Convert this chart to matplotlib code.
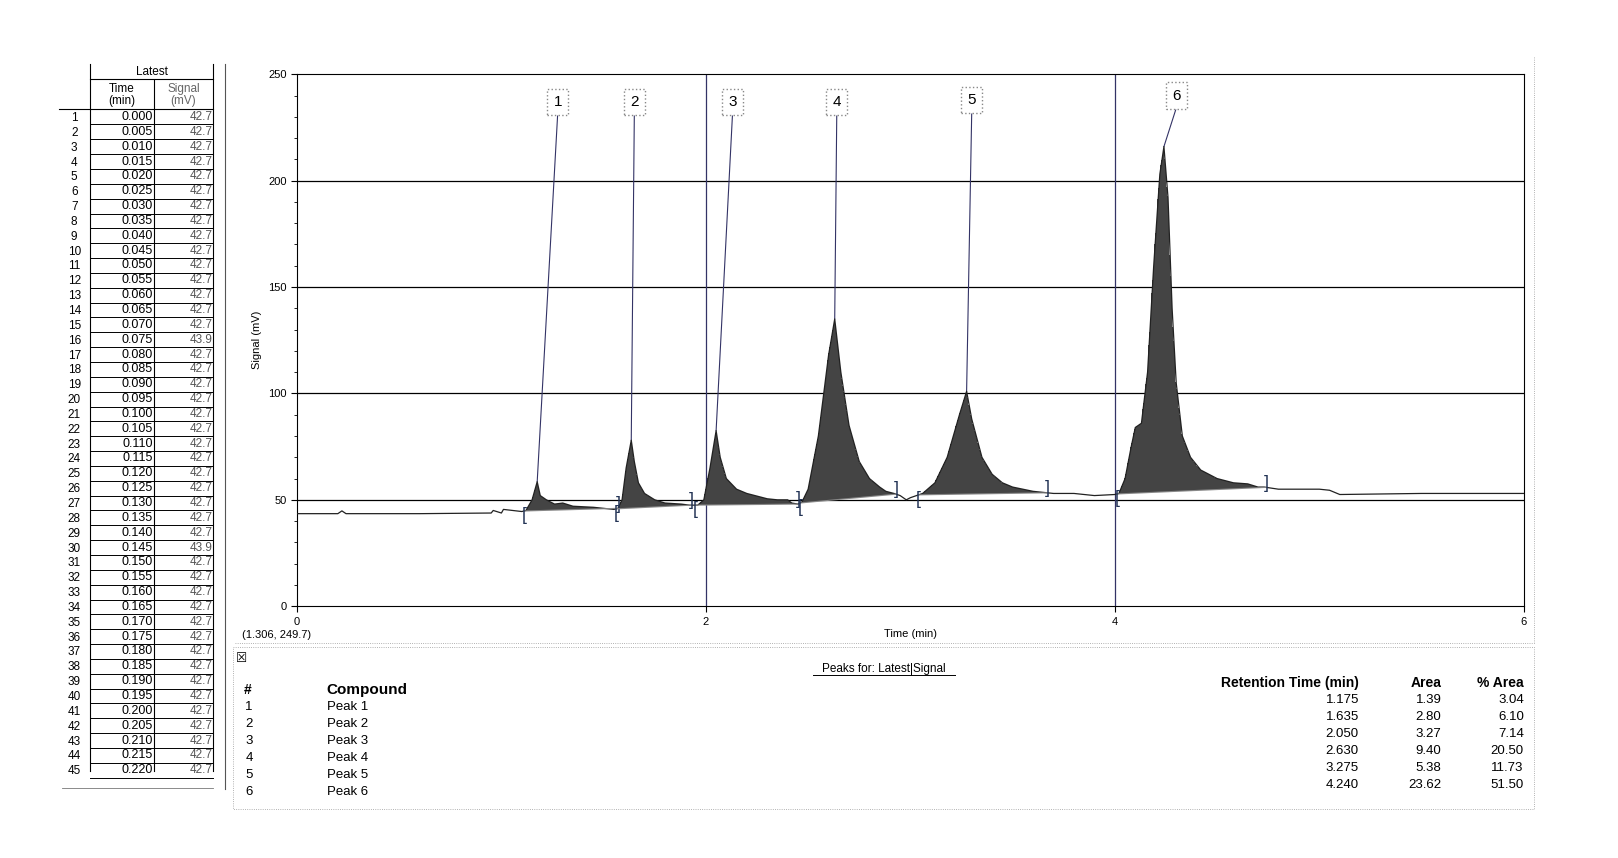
import numpy as np
import matplotlib.pyplot as plt

# chromatogram trace
trace_time = [0.0, 0.2, 0.22, 0.24, 0.6, 0.95, 0.96, 1.0, 1.01, 1.1,
              1.12, 1.15, 1.175, 1.19, 1.22, 1.26, 1.3, 1.35, 1.45, 1.5, 1.55,
              1.57, 1.59, 1.61, 1.635, 1.65, 1.67, 1.7, 1.75, 1.8, 1.88, 1.92,
              1.96, 1.99, 2.02, 2.05, 2.07, 2.1, 2.15, 2.2, 2.3, 2.35, 2.4, 2.42, 2.45,
              2.47, 2.5, 2.55, 2.6, 2.63, 2.66, 2.7, 2.75, 2.8, 2.85, 2.88, 2.92,
              2.95, 2.98, 3.0, 3.03,
              3.06, 3.12, 3.18, 3.24, 3.275, 3.3, 3.35, 3.4, 3.45, 3.5, 3.55, 3.6, 3.65,
              3.7, 3.8, 3.9, 4.0,
              4.02, 4.05, 4.08, 4.1, 4.13, 4.16, 4.19, 4.22, 4.24, 4.26, 4.28, 4.3, 4.33,
              4.37, 4.42, 4.5, 4.58, 4.65, 4.7, 4.73, 4.8, 5.0, 5.05, 5.1, 5.5, 6.0]
trace_signal = [43.5, 43.5, 44.8, 43.5, 43.5, 43.8, 45.0, 43.8, 45.5, 44.5,
                45.0, 50.0, 58.5, 52.0, 50.0, 48.0, 48.5, 47.0, 46.5, 46.0, 45.5,
                46.0, 50.0, 65.0, 78.0, 68.0, 58.0, 53.0, 50.0, 48.5, 48.0, 47.5,
                47.5, 50.0, 65.0, 82.5, 70.0, 60.0, 55.0, 53.0, 50.5, 50.0, 50.0, 48.5, 48.0,
                49.0, 55.0, 80.0, 118.0, 135.0, 110.0, 85.0, 68.0, 60.0, 56.0, 54.0, 53.0,
                52.0, 50.0, 51.0, 52.0,
                53.0, 58.0, 70.0, 90.0, 101.0, 88.0, 70.0, 62.0, 58.0, 56.0, 55.0, 54.0, 53.5,
                53.0, 53.0, 52.0, 52.5,
                53.0, 60.0, 75.0, 84.0, 86.0, 110.0, 160.0, 203.0, 216.0, 192.0, 140.0, 105.0, 80.0,
                70.0, 64.0, 60.0, 58.0, 57.5, 56.0, 56.0, 55.0, 55.0, 54.5, 52.5, 53.0, 53.0]

# integration windows (start, end) per peak
peak_start = [1.11, 1.56, 1.95, 2.46, 3.04, 4.01]
peak_end = [1.57, 1.93, 2.45, 2.93, 3.67, 4.74]
peak_labels = ['1', '2', '3', '4', '5', '6']
label_time = [1.275, 1.65, 2.13, 2.64, 3.30, 4.30]
label_height = [237, 237, 237, 237, 238, 240]

# left data table
table_time = ['%.3f' % (i * 0.005) for i in range(45)]
table_signal = ['42.7'] * 45
table_signal[15] = '43.9'
table_signal[29] = '43.9'

# peak result table
peak_names = ['Peak 1', 'Peak 2', 'Peak 3', 'Peak 4', 'Peak 5', 'Peak 6']
ret_time = ['1.175', '1.635', '2.050', '2.630', '3.275', '4.240']
area = ['1.39', '2.80', '3.27', '9.40', '5.38', '23.62']
pct_area = ['3.04', '6.10', '7.14', '20.50', '11.73', '51.50']

S = 1.031
plt.rcParams['font.family'] = ['Liberation Sans', 'DejaVu Sans']
fig = plt.figure(figsize=(16.18, 8.58), dpi=100)

# page overlay in pixel coords
pg = fig.add_axes([0, 0, 1, 1])
pg.set_xlim(0, 1618)
pg.set_ylim(858, 0)
pg.axis('off')

# main chart
ax = fig.add_axes([288 * S / 1618, 1 - 588 * S / 858, 1190 * S / 1618, 516 * S / 858])
t = np.array(trace_time)
s = np.array(trace_signal)
ax.plot(t, s, color='#222222', lw=0.9, zorder=3)
for i in range(6):
    a, b = peak_start[i], peak_end[i]
    ya, yb = np.interp(a, t, s), np.interp(b, t, s)
    tt = np.linspace(a, b, 200)
    base = ya + (yb - ya) * (tt - a) / (b - a)
    ax.fill_between(tt, base, np.interp(tt, t, s), step='pre', color='#444444', lw=0, zorder=2)
    ax.plot([a, b], [ya, yb], color='#888888', lw=0.8, zorder=3)
    ax.text(a, ya - 2, '[', fontsize=13, ha='center', va='center', color='#223355')
    ax.text(b, yb + 2, ']', fontsize=13, ha='center', va='center', color='#223355')
    apex = np.argmax(np.where((t >= a) & (t <= b), s, 0))
    ax.plot([label_time[i], t[apex]], [label_height[i] - 6, s[apex]], color='#333366', lw=0.8)
    ax.text(label_time[i], label_height[i], peak_labels[i], fontsize=11, ha='center', va='center',
            bbox=dict(boxstyle='square,pad=0.4', fc='white', ec='#888888', ls=':'))

for y in [50, 100, 150, 200]:
    ax.axhline(y, color='black', lw=0.9, zorder=1)
for x in [2, 4]:
    ax.axvline(x, color='#333366', lw=0.9, zorder=1)
ax.set_xlim(0, 6)
ax.set_ylim(0, 250)
ax.set_xticks([0, 2, 4, 6])
ax.set_yticks([0, 50, 100, 150, 200, 250])
ax.set_yticks(np.arange(0, 251, 10), minor=True)
ax.tick_params(labelsize=8, length=4, direction='out')
ax.tick_params(which='minor', length=2)
ax.set_xlabel('Time (min)', fontsize=8, labelpad=2)
ax.set_ylabel('Signal (mV)', fontsize=8)
for sp in ax.spines.values():
    sp.set_linewidth(0.8)
pg.text(235 * S, 616 * S, '(1.306, 249.7)', fontsize=8, va='center')

# left table
x0, x1, x2, x3 = 57 * S, 87 * S, 149 * S, 207 * S
pg.plot([x1, x1], [62 * S, 748 * S], color='black', lw=0.8)
pg.plot([x2, x2], [78 * S, 748 * S], color='black', lw=0.8)
pg.plot([x3, x3], [62 * S, 748 * S], color='black', lw=0.8)
pg.plot([218 * S, 218 * S], [62 * S, 765 * S], color='#555555', lw=0.8)
pg.plot([x1, x3], [77 * S, 77 * S], color='black', lw=0.8)
pg.plot([x0, x3], [106 * S, 106 * S], color='black', lw=0.8)
pg.text((x1 + x3) / 2, 70 * S, 'Latest', fontsize=8.5, ha='center', va='center')
pg.text((x1 + x2) / 2, 92 * S, 'Time\n(min)', fontsize=8.5, ha='center', va='center', linespacing=1.0)
pg.text((x2 + x3) / 2, 92 * S, 'Signal\n(mV)', fontsize=8.5, ha='center', va='center',
        color='#666666', linespacing=1.0)
row_h = 14.4 * S
for i in range(45):
    yc = 113.5 * S + i * row_h
    pg.text(72 * S, yc + 1, str(i + 1), fontsize=8.5, ha='center', va='center')
    pg.text(x2 - 1, yc, table_time[i], fontsize=9, ha='right', va='center')
    pg.text(x3 - 1, yc, table_signal[i], fontsize=8.5, ha='right', va='center', color='#555555')
    pg.plot([x1, x3], [yc + row_h / 2, yc + row_h / 2], color='black', lw=0.7)
pg.plot([60 * S, x3], [764 * S, 764 * S], color='#777777', lw=0.6)

# bottom peak table
pg.add_patch(plt.Rectangle((226 * S, 628 * S), 1262 * S, 157 * S, fill=False,
                           ec='#999999', lw=0.6, ls=':'))
pg.text(857 * S, 649 * S, 'Peaks for: Latest|Signal', fontsize=8.5, ha='center', va='center')
pg.plot([789 * S, 926 * S], [655 * S, 655 * S], color='black', lw=0.7)
pg.text(229 * S, 639 * S, '\u2612', fontsize=9, va='center')
pg.text(236 * S, 669 * S, '#', fontsize=10, fontweight='bold', va='center')
pg.text(317 * S, 669 * S, 'Compound', fontsize=11, fontweight='bold', va='center')
pg.text(1318 * S, 662 * S, 'Retention Time (min)', fontsize=10, fontweight='bold', ha='right', va='center')
pg.text(1398 * S, 662 * S, 'Area', fontsize=10, fontweight='bold', ha='right', va='center')
pg.text(1478 * S, 662 * S, '% Area', fontsize=10, fontweight='bold', ha='right', va='center')
for i in range(6):
    yc = 686 * S + i * 16.4 * S
    pg.text(238 * S, yc, str(i + 1), fontsize=9.5, va='center')
    pg.text(317 * S, yc, peak_names[i], fontsize=9.5, va='center')
    yr = 679 * S + i * 16.4 * S
    pg.text(1318 * S, yr, ret_time[i], fontsize=9.5, ha='right', va='center')
    pg.text(1398 * S, yr, area[i], fontsize=9.5, ha='right', va='center')
    pg.text(1478 * S, yr, pct_area[i], fontsize=9.5, ha='right', va='center')

# chart panel border
pg.plot([228 * S, 1488 * S], [624 * S, 624 * S], color='#999999', lw=0.6, ls=':')
pg.plot([1488 * S, 1488 * S], [55 * S, 624 * S], color='#999999', lw=0.6, ls=':')

fig.savefig('out.png', dpi=100)
